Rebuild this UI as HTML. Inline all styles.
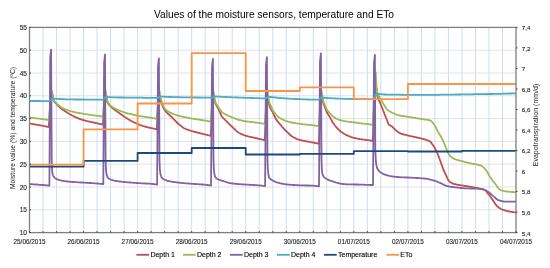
<!DOCTYPE html>
<html><head><meta charset="utf-8"><title>Values of the moisture sensors, temperature and ETo</title>
<style>html,body{margin:0;padding:0;background:#fff;width:550px;height:268px;overflow:hidden}svg{display:block}</style>
</head><body>
<svg width="550" height="268" viewBox="0 0 550 268">
<rect width="550" height="268" fill="#fff"/>
<path stroke="#e2e2e2" stroke-width="1" fill="none" d="M29.5 209.80H516.0M29.5 187.00H516.0M29.5 164.20H516.0M29.5 141.40H516.0M29.5 118.60H516.0M29.5 95.80H516.0M29.5 73.00H516.0M29.5 50.20H516.0"/>
<path stroke="#cfdcf4" stroke-width="1" fill="none" d="M43.01 27.4V232.6M56.53 27.4V232.6M70.04 27.4V232.6M83.56 27.4V232.6M97.07 27.4V232.6M110.58 27.4V232.6M124.10 27.4V232.6M137.61 27.4V232.6M151.12 27.4V232.6M164.64 27.4V232.6M178.15 27.4V232.6M191.67 27.4V232.6M205.18 27.4V232.6M218.69 27.4V232.6M232.21 27.4V232.6M245.72 27.4V232.6M259.24 27.4V232.6M272.75 27.4V232.6M286.26 27.4V232.6M299.78 27.4V232.6M313.29 27.4V232.6M326.81 27.4V232.6M340.32 27.4V232.6M353.83 27.4V232.6M367.35 27.4V232.6M380.86 27.4V232.6M394.38 27.4V232.6M407.89 27.4V232.6M421.40 27.4V232.6M434.92 27.4V232.6M448.43 27.4V232.6M461.94 27.4V232.6M475.46 27.4V232.6M488.97 27.4V232.6M502.49 27.4V232.6"/>
<g fill="none" stroke-width="1.8" stroke-linejoin="round" stroke-linecap="butt">
<polyline stroke="#c0504d" points="29.5,123.5 30.1,123.6 30.7,123.7 31.2,123.8 31.8,123.9 32.4,124.0 33.0,124.1 33.6,124.2 34.2,124.3 34.8,124.4 35.3,124.5 35.9,124.6 36.5,124.7 37.1,124.8 37.7,124.9 38.2,125.0 38.8,125.1 39.4,125.2 40.0,125.3 40.6,125.4 41.2,125.5 41.8,125.6 42.3,125.7 42.9,125.8 43.5,126.0 44.1,126.1 44.7,126.2 45.3,126.3 45.9,126.4 46.5,126.5 47.0,126.6 47.6,126.8 48.2,126.9 48.8,127.0 51.4,92.0 52.6,95.0 53.0,98.0 53.4,100.0 54.0,101.2 54.5,102.0 55.0,102.6 55.6,103.2 56.2,103.6 56.7,104.2 57.2,104.8 57.8,105.4 58.4,106.0 58.9,106.6 59.5,107.1 60.0,107.6 60.6,108.1 61.1,108.5 61.7,108.9 62.3,109.3 62.8,109.7 63.4,110.1 64.0,110.5 64.5,110.9 65.1,111.2 65.6,111.6 66.2,111.9 66.8,112.3 67.3,112.7 67.9,113.0 68.4,113.3 69.0,113.7 69.5,114.0 70.1,114.3 70.7,114.6 71.2,114.9 71.8,115.2 72.3,115.5 72.9,115.8 73.4,116.1 74.0,116.4 74.6,116.7 75.1,116.9 75.7,117.2 76.2,117.5 76.8,117.7 77.4,117.9 77.9,118.2 78.5,118.4 79.1,118.6 79.6,118.9 80.2,119.1 80.8,119.3 81.3,119.5 81.9,119.7 82.5,119.9 83.0,120.0 83.6,120.2 84.2,120.4 84.7,120.5 85.3,120.7 85.8,120.8 86.4,120.9 87.0,121.1 87.5,121.2 88.1,121.3 88.6,121.5 89.2,121.6 89.8,121.7 90.3,121.8 90.9,121.9 91.4,122.1 92.0,122.2 92.6,122.3 93.2,122.5 93.8,122.6 94.4,122.7 94.9,122.9 95.5,123.0 96.1,123.1 96.7,123.2 97.3,123.4 97.9,123.5 98.5,123.6 99.1,123.8 99.6,123.9 100.2,124.0 100.8,124.1 101.4,124.3 102.0,124.4 102.5,124.5 102.9,124.6 105.3,92.0 106.4,97.0 106.9,100.1 107.4,102.2 108.0,103.3 108.5,104.2 109.1,104.8 109.6,105.4 110.2,105.9 110.7,106.4 111.3,107.0 111.8,107.5 112.4,108.0 113.0,108.5 113.5,108.9 114.1,109.4 114.6,109.8 115.2,110.2 115.8,110.6 116.3,111.0 116.9,111.4 117.4,111.8 118.0,112.2 118.5,112.6 119.1,113.0 119.6,113.4 120.2,113.8 120.8,114.2 121.3,114.6 121.9,115.0 122.4,115.4 123.0,115.7 123.5,116.1 124.1,116.5 124.7,116.9 125.2,117.2 125.8,117.6 126.3,118.0 126.9,118.3 127.5,118.7 128.0,119.0 128.6,119.4 129.1,119.7 129.7,120.1 130.2,120.4 130.8,120.7 131.4,121.0 131.9,121.3 132.5,121.6 133.1,121.9 133.6,122.2 134.2,122.5 134.8,122.7 135.3,123.0 135.9,123.3 136.5,123.5 137.0,123.8 137.6,124.0 138.2,124.2 138.7,124.4 139.3,124.7 139.8,124.9 140.4,125.1 141.0,125.3 141.5,125.5 142.1,125.7 142.6,125.9 143.2,126.1 143.8,126.2 144.3,126.4 144.9,126.6 145.4,126.7 146.0,126.9 146.6,127.1 147.2,127.2 147.8,127.3 148.4,127.5 148.9,127.6 149.5,127.7 150.1,127.9 150.7,128.0 151.3,128.1 151.9,128.2 152.5,128.3 153.1,128.5 153.6,128.6 154.2,128.7 154.8,128.8 155.4,129.0 156.0,129.1 156.4,129.2 156.8,129.3 159.2,92.0 160.4,99.0 160.9,101.1 161.5,102.9 162.0,104.5 162.5,105.9 163.1,107.1 163.6,108.2 164.2,109.2 164.7,110.0 165.3,110.8 165.8,111.5 166.4,112.1 166.9,112.7 167.5,113.2 168.1,113.7 168.6,114.3 169.2,114.7 169.7,115.2 170.3,115.7 170.8,116.3 171.4,116.8 172.0,117.4 172.5,117.9 173.1,118.5 173.6,119.1 174.2,119.7 174.8,120.3 175.3,120.9 175.9,121.4 176.4,122.0 177.0,122.5 177.5,123.0 178.1,123.5 178.7,124.0 179.2,124.5 179.8,124.9 180.3,125.4 180.9,125.9 181.4,126.3 182.0,126.7 182.6,127.1 183.1,127.5 183.7,127.9 184.2,128.2 184.8,128.5 185.4,128.8 185.9,129.0 186.5,129.3 187.1,129.5 187.6,129.7 188.2,129.9 188.8,130.1 189.3,130.3 189.9,130.5 190.5,130.7 191.0,130.8 191.6,131.0 192.2,131.2 192.7,131.3 193.3,131.5 193.8,131.6 194.4,131.8 195.0,131.9 195.5,132.1 196.1,132.2 196.6,132.4 197.2,132.5 197.8,132.6 198.3,132.8 198.9,132.9 199.4,133.1 200.0,133.2 200.6,133.3 201.2,133.5 201.8,133.6 202.4,133.8 202.9,133.9 203.5,134.1 204.1,134.2 204.7,134.3 205.3,134.5 205.9,134.6 206.5,134.8 207.1,134.9 207.6,135.0 208.2,135.2 208.8,135.3 209.4,135.5 210.0,135.6 210.4,135.7 210.8,135.8 213.2,92.0 214.4,99.0 214.9,101.5 215.4,103.4 216.0,104.7 216.5,105.7 217.1,106.7 217.6,107.7 218.2,108.6 218.7,109.6 219.3,110.8 219.8,112.1 220.4,113.4 221.0,114.7 221.5,115.9 222.1,116.8 222.7,117.5 223.2,118.1 223.8,118.6 224.3,119.1 224.8,119.6 225.4,120.1 226.0,120.7 226.5,121.2 227.1,121.8 227.6,122.4 228.2,122.9 228.8,123.5 229.3,124.1 229.9,124.6 230.4,125.2 231.0,125.7 231.5,126.3 232.1,126.8 232.7,127.3 233.2,127.9 233.8,128.4 234.3,129.0 234.9,129.5 235.4,130.0 236.0,130.6 236.6,131.1 237.1,131.5 237.7,132.0 238.2,132.3 238.8,132.7 239.4,133.0 239.9,133.3 240.5,133.6 241.1,133.9 241.6,134.2 242.2,134.4 242.8,134.7 243.3,134.9 243.9,135.1 244.5,135.3 245.0,135.5 245.6,135.7 246.2,135.9 246.7,136.0 247.3,136.2 247.8,136.3 248.4,136.5 249.0,136.6 249.5,136.7 250.1,136.8 250.6,137.0 251.2,137.1 251.8,137.2 252.3,137.3 252.9,137.4 253.4,137.6 254.0,137.7 254.6,137.8 255.2,138.0 255.8,138.1 256.4,138.2 256.9,138.4 257.5,138.5 258.1,138.6 258.7,138.8 259.3,138.9 259.9,139.0 260.5,139.2 261.1,139.3 261.6,139.4 262.2,139.6 262.8,139.7 263.4,139.9 264.0,140.0 264.4,140.1 264.8,140.2 267.2,92.0 268.4,100.0 268.9,103.2 269.4,105.5 269.8,106.7 270.2,107.6 270.6,108.4 271.1,109.4 271.6,110.4 272.2,111.3 272.7,112.3 273.3,113.5 273.8,114.7 274.4,116.0 275.0,117.2 275.5,118.3 276.1,119.3 276.7,120.1 277.2,120.9 277.8,121.6 278.3,122.2 278.8,122.9 279.4,123.5 280.0,124.2 280.5,124.8 281.1,125.5 281.6,126.1 282.2,126.8 282.8,127.4 283.3,128.1 283.9,128.7 284.4,129.3 285.0,129.9 285.5,130.4 286.1,131.0 286.7,131.6 287.2,132.1 287.8,132.7 288.3,133.2 288.9,133.8 289.5,134.3 290.0,134.8 290.6,135.3 291.1,135.7 291.7,136.2 292.2,136.5 292.8,136.9 293.4,137.2 293.9,137.5 294.5,137.8 295.1,138.1 295.6,138.4 296.2,138.7 296.8,138.9 297.3,139.1 297.9,139.3 298.5,139.5 299.0,139.7 299.6,139.9 300.2,140.1 300.8,140.2 301.4,140.4 302.0,140.5 302.6,140.6 303.2,140.7 303.8,140.8 304.4,140.9 305.0,141.0 305.6,141.2 306.2,141.3 306.8,141.4 307.4,141.5 308.0,141.6 308.6,141.7 309.2,141.8 309.8,141.9 310.4,142.1 310.9,142.2 311.5,142.3 312.1,142.4 312.7,142.5 313.3,142.6 313.9,142.7 314.5,142.9 315.1,143.0 315.6,143.1 316.2,143.2 316.8,143.3 317.4,143.5 318.0,143.6 318.4,143.7 318.8,143.8 321.2,92.0 322.4,98.0 322.9,101.2 323.4,103.5 323.8,104.7 324.2,105.6 324.6,106.5 325.1,107.9 325.6,109.3 326.2,110.6 326.7,111.8 327.3,112.9 327.8,113.9 328.4,114.8 329.0,115.7 329.5,116.6 330.1,117.6 330.7,118.6 331.2,119.6 331.8,120.7 332.3,121.7 332.8,122.6 333.4,123.5 334.0,124.3 334.5,125.0 335.1,125.8 335.7,126.4 336.2,127.1 336.8,127.7 337.4,128.3 337.9,128.9 338.5,129.5 339.0,130.0 339.6,130.5 340.1,131.0 340.7,131.4 341.2,131.9 341.8,132.3 342.3,132.6 342.9,133.0 343.5,133.4 344.0,133.7 344.6,134.0 345.1,134.3 345.7,134.6 346.2,134.9 346.8,135.2 347.4,135.5 347.9,135.7 348.5,136.0 349.1,136.2 349.6,136.5 350.2,136.7 350.8,136.9 351.3,137.1 351.9,137.3 352.5,137.5 353.0,137.6 353.6,137.8 354.2,137.9 354.8,138.1 355.4,138.2 356.0,138.4 356.6,138.5 357.2,138.6 357.8,138.7 358.4,138.8 359.0,138.9 359.6,139.0 360.2,139.1 360.8,139.2 361.4,139.3 362.0,139.4 362.6,139.5 363.2,139.6 363.8,139.7 364.4,139.7 364.9,139.8 365.5,139.9 366.1,139.9 366.7,140.0 367.3,140.1 367.9,140.1 368.5,140.2 369.1,140.3 369.6,140.4 370.2,140.5 370.8,140.6 371.4,140.7 372.0,140.8 372.4,140.9 372.7,141.0 375.2,92.0 376.5,88.0 377.0,94.3 377.6,96.9 378.1,98.7 378.7,100.0 379.3,101.1 379.8,102.2 380.4,103.5 380.9,104.9 381.5,106.3 382.0,107.7 382.6,109.1 383.1,110.5 383.7,111.9 384.3,113.3 384.8,114.7 385.4,116.1 386.0,117.5 386.5,118.9 387.1,120.3 387.7,121.9 388.2,123.5 388.8,124.5 389.3,125.0 389.9,125.3 390.4,125.6 390.9,125.9 391.5,126.1 392.0,126.5 392.6,127.0 393.2,127.6 393.8,128.3 394.4,128.9 395.0,129.5 395.6,130.0 396.1,130.5 396.7,130.9 397.2,131.4 397.8,131.8 398.3,132.2 398.9,132.6 399.4,132.9 400.0,133.2 400.6,133.4 401.1,133.7 401.7,133.9 402.3,134.0 402.9,134.2 403.4,134.4 404.0,134.5 404.6,134.7 405.1,134.8 405.7,134.9 406.3,135.1 406.9,135.2 407.4,135.4 408.0,135.5 408.6,135.7 409.2,135.8 409.8,135.9 410.4,136.1 411.0,136.2 411.6,136.3 412.2,136.5 412.8,136.6 413.4,136.7 414.0,136.8 414.6,137.0 415.2,137.1 415.8,137.2 416.4,137.4 417.0,137.5 417.6,137.6 418.2,137.8 418.8,137.9 419.4,138.0 420.0,138.2 420.6,138.3 421.1,138.5 421.7,138.6 422.3,138.8 422.9,138.9 423.4,139.1 424.0,139.2 424.6,139.4 425.1,139.5 425.7,139.7 426.3,139.9 426.9,140.1 427.4,140.3 428.0,140.5 428.5,140.7 429.0,140.9 429.5,141.2 430.0,141.5 430.6,142.0 431.2,142.7 431.8,143.5 432.4,144.4 433.0,145.3 433.6,146.2 434.2,147.1 434.8,148.1 435.4,149.2 436.0,150.3 436.6,151.5 437.1,152.8 437.7,154.1 438.3,155.5 438.9,157.0 439.4,158.5 440.0,160.0 440.6,161.7 441.2,163.4 441.8,165.2 442.4,166.9 443.0,168.5 443.6,170.0 444.2,171.3 444.8,172.7 445.4,173.9 446.0,175.2 446.6,176.5 447.2,177.9 447.8,179.2 448.4,180.3 449.0,181.1 449.6,181.6 450.1,182.1 450.7,182.5 451.3,182.8 451.9,183.1 452.4,183.4 453.0,183.6 453.6,183.8 454.1,184.0 454.7,184.1 455.3,184.2 455.9,184.4 456.4,184.5 457.0,184.6 457.6,184.7 458.1,184.8 458.7,184.9 459.3,185.0 459.9,185.1 460.4,185.2 461.0,185.3 461.6,185.4 462.2,185.5 462.8,185.6 463.4,185.7 464.0,185.8 464.6,185.9 465.2,186.0 465.8,186.0 466.4,186.1 467.0,186.2 467.6,186.3 468.2,186.4 468.8,186.5 469.4,186.6 470.0,186.7 470.6,186.8 471.2,186.9 471.8,187.0 472.4,187.1 472.9,187.2 473.5,187.3 474.1,187.5 474.7,187.6 475.3,187.7 475.9,187.8 476.5,187.9 477.1,188.1 477.6,188.2 478.2,188.3 478.8,188.4 479.4,188.6 480.0,188.7 480.6,188.8 481.1,188.9 481.7,189.0 482.2,189.2 482.8,189.3 483.3,189.4 483.9,189.6 484.4,189.8 485.0,190.0 485.6,190.4 486.2,191.1 486.8,191.9 487.4,192.8 488.0,193.6 488.6,194.3 489.1,195.0 489.7,195.8 490.2,196.5 490.8,197.3 491.3,198.1 491.9,198.9 492.4,199.6 493.0,200.4 493.6,201.2 494.1,202.1 494.7,203.0 495.3,203.9 495.9,204.7 496.4,205.4 497.0,206.0 497.6,206.5 498.2,207.0 498.8,207.5 499.4,207.9 500.0,208.3 500.6,208.7 501.2,209.0 501.8,209.3 502.4,209.6 503.0,209.8 503.6,210.0 504.2,210.2 504.8,210.4 505.3,210.6 505.9,210.7 506.5,210.9 507.1,211.0 507.7,211.1 508.2,211.3 508.8,211.4 509.4,211.5 510.0,211.6 510.6,211.7 511.2,211.8 511.8,211.9 512.4,212.0 513.0,212.1 513.6,212.2 514.2,212.3 514.8,212.4 515.4,212.4 516.0,212.5"/>
<polyline stroke="#9bbb59" points="29.5,117.5 30.1,117.6 30.7,117.6 31.2,117.7 31.8,117.8 32.4,117.8 33.0,117.9 33.6,118.0 34.2,118.1 34.8,118.1 35.3,118.2 35.9,118.3 36.5,118.4 37.1,118.4 37.7,118.5 38.2,118.6 38.8,118.6 39.4,118.7 40.0,118.8 40.6,118.9 41.2,119.0 41.8,119.0 42.3,119.1 42.9,119.2 43.5,119.3 44.1,119.3 44.7,119.4 45.3,119.5 45.9,119.6 46.5,119.7 47.0,119.8 47.6,119.8 48.2,119.9 48.8,120.0 51.4,90.0 52.6,94.0 53.0,97.1 53.4,99.2 54.0,100.4 54.5,101.2 55.0,101.9 55.6,102.4 56.2,102.9 56.7,103.4 57.2,104.0 57.8,104.5 58.4,105.0 58.9,105.5 59.5,106.0 60.0,106.4 60.6,106.8 61.1,107.2 61.7,107.5 62.3,107.8 62.8,108.1 63.4,108.4 64.0,108.7 64.5,108.9 65.1,109.2 65.6,109.4 66.2,109.6 66.8,109.9 67.3,110.1 67.9,110.3 68.4,110.5 69.0,110.7 69.5,110.8 70.1,111.0 70.7,111.2 71.2,111.3 71.8,111.5 72.3,111.6 72.9,111.7 73.4,111.9 74.0,112.0 74.6,112.1 75.1,112.3 75.7,112.4 76.2,112.5 76.8,112.6 77.4,112.7 77.9,112.8 78.5,112.9 79.1,113.0 79.6,113.1 80.2,113.2 80.8,113.3 81.3,113.4 81.9,113.5 82.5,113.6 83.0,113.7 83.6,113.8 84.2,113.9 84.7,114.0 85.3,114.1 85.8,114.2 86.4,114.3 87.0,114.3 87.5,114.4 88.1,114.5 88.6,114.6 89.2,114.7 89.8,114.8 90.3,114.9 90.9,114.9 91.4,115.0 92.0,115.1 92.6,115.2 93.2,115.3 93.8,115.3 94.4,115.4 94.9,115.5 95.5,115.6 96.1,115.6 96.7,115.7 97.3,115.8 97.9,115.9 98.5,115.9 99.1,116.0 99.6,116.1 100.2,116.2 100.8,116.3 101.4,116.4 102.0,116.5 102.5,116.6 102.9,116.7 105.3,90.0 106.4,95.0 106.9,98.2 107.4,100.5 108.0,101.8 108.5,102.9 109.1,103.8 109.6,104.5 110.2,105.1 110.7,105.6 111.3,106.1 111.8,106.6 112.4,107.0 113.0,107.3 113.5,107.7 114.1,108.0 114.6,108.3 115.2,108.6 115.8,108.9 116.3,109.2 116.9,109.4 117.4,109.7 118.0,109.9 118.5,110.2 119.1,110.4 119.6,110.7 120.2,110.9 120.8,111.1 121.3,111.3 121.9,111.5 122.4,111.7 123.0,111.9 123.5,112.1 124.1,112.3 124.7,112.5 125.2,112.6 125.8,112.8 126.3,113.0 126.9,113.1 127.5,113.3 128.0,113.4 128.6,113.6 129.1,113.7 129.7,113.8 130.2,114.0 130.8,114.1 131.4,114.2 131.9,114.4 132.5,114.5 133.1,114.6 133.6,114.8 134.2,114.9 134.8,115.0 135.3,115.1 135.9,115.3 136.5,115.4 137.0,115.5 137.6,115.6 138.2,115.7 138.7,115.8 139.3,115.9 139.8,116.0 140.4,116.1 141.0,116.2 141.5,116.3 142.1,116.4 142.6,116.5 143.2,116.6 143.8,116.6 144.3,116.7 144.9,116.8 145.4,116.9 146.0,117.0 146.6,117.1 147.2,117.2 147.8,117.3 148.4,117.4 148.9,117.4 149.5,117.5 150.1,117.6 150.7,117.7 151.3,117.8 151.9,117.9 152.5,118.0 153.1,118.1 153.6,118.2 154.2,118.3 154.8,118.4 155.4,118.5 156.0,118.6 156.4,118.7 156.8,118.8 159.2,90.0 160.4,96.0 160.9,98.5 161.5,100.7 162.0,102.5 162.5,104.0 163.1,105.4 163.6,106.6 164.2,107.6 164.7,108.4 165.3,109.0 165.8,109.6 166.4,110.1 166.9,110.5 167.5,110.9 168.1,111.3 168.6,111.6 169.2,112.0 169.7,112.3 170.3,112.6 170.8,112.8 171.4,113.1 172.0,113.4 172.5,113.6 173.1,113.9 173.6,114.1 174.2,114.3 174.8,114.5 175.3,114.7 175.9,114.9 176.4,115.1 177.0,115.3 177.5,115.4 178.1,115.6 178.7,115.8 179.2,115.9 179.8,116.0 180.3,116.2 180.9,116.3 181.4,116.4 182.0,116.5 182.6,116.6 183.1,116.8 183.7,116.9 184.2,117.0 184.8,117.1 185.4,117.2 185.9,117.3 186.5,117.5 187.1,117.6 187.6,117.7 188.2,117.8 188.8,117.9 189.3,118.1 189.9,118.2 190.5,118.3 191.0,118.4 191.6,118.5 192.2,118.6 192.7,118.7 193.3,118.8 193.8,118.9 194.4,119.0 195.0,119.0 195.5,119.1 196.1,119.2 196.6,119.3 197.2,119.4 197.8,119.5 198.3,119.5 198.9,119.6 199.4,119.7 200.0,119.8 200.6,119.9 201.2,120.0 201.8,120.1 202.4,120.2 202.9,120.3 203.5,120.4 204.1,120.4 204.7,120.5 205.3,120.6 205.9,120.7 206.5,120.8 207.1,120.9 207.6,121.0 208.2,121.1 208.8,121.3 209.4,121.4 210.0,121.5 210.4,121.6 210.8,121.7 213.2,90.0 214.4,97.0 214.9,100.3 215.4,102.5 216.0,103.6 216.5,104.3 217.1,105.0 217.6,105.8 218.1,106.7 218.7,107.6 219.2,108.4 219.7,109.2 220.2,109.9 220.7,110.5 221.1,111.1 221.6,111.6 222.1,112.1 222.7,112.6 223.2,113.0 223.8,113.3 224.3,113.7 224.8,114.0 225.4,114.3 226.0,114.6 226.5,114.9 227.1,115.2 227.6,115.4 228.2,115.7 228.8,115.9 229.3,116.2 229.9,116.4 230.4,116.6 231.0,116.8 231.5,117.1 232.1,117.3 232.7,117.5 233.2,117.8 233.8,118.0 234.3,118.2 234.9,118.4 235.4,118.7 236.0,118.9 236.6,119.1 237.1,119.3 237.7,119.5 238.2,119.6 238.8,119.8 239.4,120.0 239.9,120.1 240.5,120.2 241.1,120.4 241.6,120.5 242.2,120.7 242.8,120.8 243.3,120.9 243.9,121.0 244.5,121.1 245.0,121.2 245.6,121.3 246.2,121.4 246.7,121.5 247.3,121.5 247.8,121.6 248.4,121.7 249.0,121.7 249.5,121.8 250.1,121.9 250.6,121.9 251.2,122.0 251.8,122.0 252.3,122.1 252.9,122.2 253.4,122.2 254.0,122.3 254.6,122.4 255.2,122.5 255.8,122.5 256.4,122.6 256.9,122.7 257.5,122.8 258.1,122.8 258.7,122.9 259.3,123.0 259.9,123.1 260.5,123.2 261.1,123.3 261.6,123.4 262.2,123.5 262.8,123.6 263.4,123.7 264.0,123.8 264.4,123.9 264.8,124.0 267.2,90.0 268.4,97.0 268.9,100.2 269.4,102.5 269.8,103.6 270.2,104.4 270.6,105.2 271.1,106.4 271.6,107.7 272.2,108.9 272.7,109.9 273.3,110.9 273.8,111.8 274.4,112.7 275.0,113.4 275.5,114.2 276.1,114.8 276.7,115.4 277.2,115.9 277.8,116.4 278.3,116.8 278.8,117.2 279.4,117.6 280.0,118.0 280.5,118.3 281.1,118.6 281.6,119.0 282.2,119.3 282.8,119.6 283.3,119.8 283.9,120.1 284.4,120.4 285.0,120.6 285.5,120.8 286.1,121.0 286.7,121.2 287.2,121.4 287.8,121.5 288.3,121.7 288.9,121.8 289.5,122.0 290.0,122.1 290.6,122.2 291.1,122.4 291.7,122.5 292.2,122.6 292.8,122.7 293.4,122.8 293.9,122.9 294.5,123.0 295.1,123.1 295.6,123.2 296.2,123.3 296.8,123.4 297.3,123.5 297.9,123.6 298.5,123.6 299.0,123.7 299.6,123.8 300.2,123.9 300.8,124.0 301.4,124.0 302.0,124.1 302.6,124.2 303.2,124.3 303.8,124.3 304.4,124.4 305.0,124.5 305.6,124.5 306.2,124.6 306.8,124.7 307.4,124.7 308.0,124.8 308.6,124.9 309.2,124.9 309.8,125.0 310.4,125.1 310.9,125.1 311.5,125.2 312.1,125.2 312.7,125.3 313.3,125.4 313.9,125.4 314.5,125.5 315.1,125.6 315.6,125.6 316.2,125.7 316.8,125.8 317.4,125.9 318.0,126.0 318.4,126.1 318.8,126.2 321.2,90.0 322.4,96.0 322.9,99.4 323.4,101.7 323.8,102.7 324.2,103.4 324.6,104.2 325.1,105.5 325.6,106.8 326.2,108.1 326.7,109.2 327.3,110.1 327.8,110.8 328.4,111.5 329.0,112.2 329.5,112.8 330.1,113.4 330.7,114.0 331.2,114.6 331.8,115.3 332.3,115.8 332.8,116.3 333.4,116.8 334.0,117.2 334.5,117.6 335.1,117.9 335.7,118.2 336.2,118.5 336.8,118.8 337.4,119.1 337.9,119.3 338.5,119.5 339.0,119.7 339.6,119.9 340.1,120.1 340.7,120.3 341.2,120.4 341.8,120.5 342.3,120.7 342.9,120.8 343.5,120.9 344.0,121.0 344.6,121.1 345.1,121.2 345.7,121.3 346.2,121.4 346.8,121.5 347.4,121.6 347.9,121.7 348.5,121.7 349.1,121.8 349.6,121.9 350.2,121.9 350.8,122.0 351.3,122.0 351.9,122.1 352.5,122.2 353.0,122.2 353.6,122.3 354.2,122.4 354.8,122.5 355.4,122.5 356.0,122.6 356.6,122.7 357.2,122.8 357.8,122.9 358.4,123.0 359.0,123.1 359.6,123.2 360.2,123.2 360.8,123.3 361.4,123.4 362.0,123.5 362.6,123.6 363.2,123.7 363.8,123.7 364.4,123.8 364.9,123.8 365.5,123.9 366.1,124.0 366.7,124.0 367.3,124.1 367.9,124.2 368.5,124.2 369.1,124.3 369.6,124.4 370.2,124.5 370.8,124.6 371.4,124.7 372.0,124.8 372.4,124.9 372.7,125.0 375.7,72.0 376.5,86.0 377.0,91.7 377.6,93.7 378.1,95.1 378.7,96.1 379.3,96.8 379.8,97.6 380.4,98.5 380.9,99.5 381.5,100.5 382.0,101.5 382.6,102.5 383.1,103.4 383.7,104.3 384.3,105.2 384.8,106.2 385.4,107.1 386.0,108.0 386.5,108.8 387.1,109.4 387.7,109.9 388.2,110.4 388.8,110.8 389.3,111.1 389.9,111.5 390.4,111.8 391.0,112.1 391.5,112.4 392.1,112.7 392.7,113.0 393.2,113.2 393.8,113.5 394.3,113.8 394.9,114.0 395.5,114.2 396.0,114.4 396.6,114.6 397.1,114.8 397.7,115.0 398.2,115.2 398.8,115.3 399.4,115.4 399.9,115.5 400.5,115.6 401.0,115.7 401.6,115.8 402.1,115.9 402.7,116.0 403.3,116.1 403.8,116.1 404.4,116.2 404.9,116.3 405.5,116.4 406.1,116.5 406.6,116.6 407.2,116.7 407.8,116.8 408.3,116.9 408.9,117.0 409.5,117.1 410.0,117.1 410.6,117.2 411.2,117.3 411.7,117.4 412.3,117.5 412.9,117.6 413.4,117.7 414.0,117.8 414.6,117.9 415.2,118.0 415.8,118.1 416.4,118.2 416.9,118.3 417.5,118.4 418.1,118.5 418.7,118.6 419.3,118.6 419.9,118.7 420.5,118.8 421.1,118.9 421.6,119.0 422.2,119.1 422.8,119.2 423.4,119.3 424.0,119.4 424.6,119.5 425.2,119.6 425.8,119.6 426.4,119.7 427.0,119.8 427.6,119.9 428.2,120.0 428.8,120.1 429.4,120.2 430.0,120.4 430.6,120.7 431.1,121.0 431.7,121.6 432.3,122.2 432.9,122.8 433.4,123.6 434.0,124.3 434.6,125.1 435.1,126.1 435.7,127.2 436.3,128.4 436.9,129.6 437.4,130.7 438.0,131.8 438.6,132.8 439.1,133.7 439.7,134.7 440.3,135.6 440.9,136.5 441.4,137.5 442.0,138.6 442.6,139.8 443.2,141.1 443.8,142.5 444.4,143.9 445.0,145.3 445.6,146.7 446.1,148.1 446.7,149.6 447.3,151.1 447.9,152.4 448.4,153.6 449.0,154.5 449.6,155.3 450.2,155.9 450.8,156.5 451.4,157.0 452.0,157.5 452.6,157.9 453.2,158.3 453.8,158.6 454.4,158.9 455.0,159.2 455.6,159.4 456.2,159.6 456.8,159.8 457.4,160.0 458.0,160.1 458.6,160.3 459.2,160.4 459.8,160.6 460.4,160.7 461.0,160.9 461.6,161.1 462.2,161.2 462.8,161.4 463.4,161.5 464.0,161.7 464.6,161.9 465.2,162.0 465.8,162.2 466.4,162.3 467.0,162.5 467.6,162.6 468.2,162.8 468.8,162.9 469.4,163.1 470.0,163.2 470.6,163.3 471.1,163.4 471.7,163.6 472.3,163.7 472.9,163.8 473.4,163.9 474.0,164.0 474.6,164.1 475.1,164.2 475.7,164.3 476.3,164.4 476.9,164.5 477.4,164.7 478.0,164.8 478.6,164.9 479.2,165.1 479.8,165.2 480.4,165.4 481.0,165.6 481.6,165.9 482.1,166.2 482.7,166.6 483.2,167.1 483.8,167.6 484.3,168.2 484.9,168.8 485.4,169.4 486.0,170.1 486.6,170.9 487.1,171.8 487.7,172.8 488.3,173.8 488.9,174.9 489.4,175.9 490.0,176.8 490.6,177.6 491.1,178.4 491.7,179.2 492.2,179.9 492.8,180.7 493.3,181.4 493.9,182.1 494.4,182.8 495.0,183.5 495.6,184.2 496.1,185.0 496.7,185.8 497.2,186.7 497.8,187.4 498.3,188.1 498.9,188.7 499.4,189.2 500.0,189.6 500.6,189.9 501.2,190.1 501.8,190.4 502.4,190.6 503.0,190.8 503.6,190.9 504.2,191.1 504.8,191.2 505.4,191.3 506.0,191.4 506.6,191.5 507.2,191.5 507.8,191.6 508.4,191.7 508.9,191.7 509.5,191.8 510.1,191.8 510.7,191.9 511.3,191.9 511.9,192.0 512.5,192.0 513.1,192.0 513.6,192.1 514.2,192.1 514.8,192.1 515.4,192.1 516.0,192.1"/>
<polyline stroke="#8064a2" points="29.5,184.0 30.1,184.0 30.7,184.1 31.2,184.1 31.8,184.2 32.4,184.2 33.0,184.3 33.6,184.3 34.2,184.3 34.8,184.4 35.3,184.4 35.9,184.5 36.5,184.5 37.1,184.6 37.7,184.6 38.2,184.7 38.8,184.7 39.4,184.8 40.0,184.8 40.6,184.8 41.2,184.9 41.8,184.9 42.4,185.0 42.9,185.0 43.5,185.1 44.1,185.1 44.7,185.2 45.3,185.2 45.9,185.3 46.5,185.3 47.0,185.4 47.6,185.4 48.2,185.5 48.8,185.5 49.4,185.6 50.2,57.6 51.1,49.6 51.7,160.0 52.1,170.0 52.4,172.9 52.7,174.5 53.2,175.8 53.6,176.6 54.1,177.3 54.7,177.9 55.2,178.3 55.8,178.6 56.4,178.9 56.9,179.2 57.5,179.4 58.1,179.6 58.6,179.8 59.2,180.0 59.7,180.2 60.3,180.3 60.9,180.4 61.5,180.6 62.1,180.7 62.6,180.8 63.2,180.9 63.8,181.0 64.4,181.1 65.0,181.2 65.5,181.3 66.1,181.3 66.6,181.4 67.2,181.5 67.7,181.5 68.2,181.6 68.8,181.7 69.3,181.7 69.9,181.8 70.4,181.8 71.0,181.8 71.6,181.9 72.1,181.9 72.7,182.0 73.3,182.0 73.9,182.1 74.5,182.1 75.1,182.1 75.6,182.2 76.2,182.2 76.8,182.2 77.4,182.3 78.0,182.3 78.5,182.3 79.1,182.4 79.7,182.4 80.3,182.4 80.9,182.5 81.5,182.5 82.0,182.5 82.6,182.6 83.2,182.6 83.8,182.6 84.4,182.7 84.9,182.7 85.5,182.7 86.1,182.8 86.7,182.8 87.2,182.8 87.8,182.9 88.4,182.9 89.0,182.9 89.6,183.0 90.1,183.0 90.7,183.0 91.3,183.1 91.9,183.1 92.4,183.2 93.0,183.2 93.6,183.2 94.2,183.3 94.7,183.3 95.3,183.4 95.9,183.4 96.5,183.4 97.0,183.5 97.6,183.5 98.2,183.6 98.7,183.6 99.3,183.7 99.9,183.8 100.5,183.8 101.0,183.9 101.6,183.9 102.2,184.0 102.7,184.0 103.3,184.1 104.1,62.5 105.0,54.5 105.6,160.0 106.0,170.0 106.6,174.5 107.1,176.2 107.6,177.2 108.1,177.8 108.6,178.3 109.2,178.7 109.7,179.0 110.2,179.3 110.8,179.5 111.3,179.8 111.9,180.0 112.5,180.1 113.0,180.3 113.6,180.4 114.2,180.6 114.7,180.7 115.3,180.8 115.9,180.9 116.5,181.0 117.1,181.1 117.7,181.2 118.3,181.3 118.9,181.4 119.5,181.5 120.1,181.5 120.6,181.6 121.2,181.7 121.8,181.7 122.4,181.8 123.0,181.9 123.6,181.9 124.2,182.0 124.8,182.0 125.4,182.1 126.0,182.2 126.6,182.2 127.1,182.3 127.7,182.3 128.3,182.4 128.9,182.4 129.5,182.5 130.1,182.5 130.6,182.6 131.2,182.6 131.8,182.7 132.4,182.7 133.0,182.7 133.5,182.8 134.1,182.8 134.7,182.9 135.3,182.9 135.9,182.9 136.5,183.0 137.0,183.0 137.6,183.1 138.2,183.1 138.8,183.1 139.4,183.2 139.9,183.2 140.5,183.2 141.1,183.3 141.7,183.3 142.2,183.3 142.8,183.3 143.4,183.4 144.0,183.4 144.6,183.4 145.1,183.5 145.7,183.5 146.3,183.5 146.9,183.5 147.4,183.6 148.0,183.6 148.6,183.6 149.2,183.7 149.7,183.7 150.3,183.8 150.9,183.8 151.5,183.8 152.0,183.9 152.6,184.0 153.2,184.0 153.7,184.1 154.3,184.2 154.8,184.3 155.4,184.3 156.0,184.4 156.5,184.5 157.1,184.6 158.0,66.4 158.9,58.4 159.5,160.0 159.9,170.0 160.5,174.5 161.1,176.3 161.6,177.4 162.1,178.0 162.6,178.5 163.2,178.9 163.7,179.2 164.2,179.5 164.8,179.8 165.3,180.0 165.9,180.2 166.5,180.4 167.0,180.6 167.6,180.8 168.2,180.9 168.7,181.1 169.3,181.2 169.9,181.3 170.5,181.4 171.1,181.6 171.7,181.7 172.3,181.8 172.9,181.9 173.5,182.0 174.1,182.0 174.6,182.1 175.2,182.2 175.8,182.3 176.4,182.4 177.0,182.4 177.6,182.5 178.2,182.6 178.8,182.6 179.4,182.7 180.0,182.8 180.6,182.8 181.1,182.9 181.7,182.9 182.3,183.0 182.9,183.1 183.5,183.1 184.1,183.2 184.6,183.2 185.2,183.3 185.8,183.3 186.4,183.3 187.0,183.4 187.5,183.4 188.1,183.5 188.7,183.5 189.3,183.6 189.9,183.6 190.5,183.7 191.0,183.7 191.6,183.8 192.2,183.8 192.8,183.8 193.4,183.9 193.9,183.9 194.5,184.0 195.1,184.0 195.7,184.0 196.2,184.1 196.8,184.1 197.4,184.1 198.0,184.2 198.6,184.2 199.1,184.3 199.7,184.3 200.3,184.3 200.9,184.4 201.4,184.4 202.0,184.5 202.6,184.5 203.2,184.5 203.7,184.6 204.3,184.6 204.9,184.7 205.5,184.8 206.0,184.8 206.6,184.9 207.1,184.9 207.7,185.0 208.2,185.1 208.8,185.2 209.3,185.3 209.9,185.3 210.4,185.4 211.0,185.5 212.0,66.9 212.9,58.9 213.5,160.0 213.9,170.0 214.5,174.6 214.9,176.1 215.3,177.0 215.9,177.7 216.4,178.3 217.0,178.7 217.6,179.0 218.2,179.3 218.8,179.6 219.3,179.8 219.9,180.0 220.5,180.2 221.1,180.4 221.7,180.6 222.3,180.8 222.8,180.9 223.4,181.1 224.0,181.3 224.6,181.5 225.2,181.7 225.8,181.9 226.4,182.1 227.0,182.3 227.6,182.5 228.2,182.7 228.8,182.8 229.4,183.0 230.0,183.1 230.6,183.2 231.2,183.3 231.8,183.4 232.4,183.5 232.9,183.5 233.5,183.6 234.1,183.7 234.7,183.7 235.3,183.8 235.9,183.8 236.5,183.9 237.1,184.0 237.6,184.0 238.2,184.1 238.8,184.1 239.4,184.2 240.0,184.2 240.6,184.2 241.2,184.3 241.8,184.3 242.4,184.4 243.0,184.4 243.6,184.4 244.2,184.5 244.8,184.5 245.4,184.6 246.0,184.6 246.6,184.6 247.2,184.6 247.8,184.7 248.4,184.7 249.0,184.7 249.6,184.8 250.2,184.8 250.8,184.8 251.4,184.9 252.0,184.9 252.6,184.9 253.2,185.0 253.8,185.0 254.4,185.1 255.0,185.1 255.6,185.1 256.2,185.2 256.8,185.2 257.4,185.3 258.0,185.3 258.6,185.4 259.2,185.4 259.8,185.5 260.3,185.5 260.9,185.6 261.5,185.7 262.1,185.7 262.7,185.8 263.3,185.8 263.9,185.9 264.5,185.9 265.1,186.0 266.0,65.2 266.9,57.2 267.5,160.0 267.9,170.0 268.4,174.3 268.7,176.1 269.0,177.2 269.5,178.1 270.1,178.7 270.6,179.2 271.1,179.6 271.7,179.9 272.2,180.2 272.8,180.5 273.3,180.9 273.9,181.2 274.5,181.4 275.0,181.7 275.6,181.9 276.2,182.1 276.7,182.3 277.3,182.5 277.9,182.7 278.5,182.8 279.1,183.0 279.7,183.1 280.3,183.3 280.9,183.4 281.5,183.6 282.1,183.7 282.6,183.8 283.2,183.9 283.8,184.0 284.4,184.1 285.0,184.2 285.6,184.3 286.2,184.4 286.8,184.4 287.4,184.5 288.0,184.6 288.6,184.6 289.1,184.7 289.7,184.7 290.3,184.8 290.9,184.8 291.5,184.8 292.1,184.9 292.6,184.9 293.2,185.0 293.8,185.0 294.4,185.0 295.0,185.1 295.5,185.1 296.1,185.1 296.7,185.1 297.3,185.2 297.9,185.2 298.5,185.2 299.0,185.3 299.6,185.3 300.2,185.3 300.8,185.3 301.4,185.3 301.9,185.4 302.5,185.4 303.1,185.4 303.7,185.4 304.2,185.4 304.8,185.4 305.4,185.5 306.0,185.5 306.5,185.5 307.1,185.5 307.7,185.5 308.3,185.5 308.9,185.5 309.4,185.6 310.0,185.6 310.6,185.6 311.2,185.6 311.7,185.6 312.3,185.7 312.9,185.7 313.5,185.7 314.0,185.8 314.6,185.8 315.1,185.9 315.7,185.9 316.2,186.0 316.8,186.1 317.3,186.2 317.9,186.2 318.4,186.3 319.0,186.4 320.0,61.4 320.9,53.4 321.5,160.0 321.9,170.0 322.2,172.7 322.5,174.3 322.8,175.2 323.1,175.8 323.6,176.5 324.1,177.1 324.6,177.6 325.1,178.0 325.6,178.3 326.2,178.7 326.8,179.0 327.3,179.3 327.9,179.6 328.5,179.9 329.1,180.1 329.7,180.4 330.3,180.6 330.8,180.8 331.4,181.0 332.0,181.2 332.6,181.4 333.2,181.6 333.8,181.8 334.4,181.9 335.0,182.1 335.5,182.3 336.1,182.5 336.7,182.7 337.3,182.8 337.9,183.0 338.5,183.1 339.1,183.3 339.7,183.4 340.3,183.6 340.9,183.7 341.5,183.8 342.0,183.9 342.6,184.0 343.2,184.0 343.8,184.1 344.4,184.2 345.0,184.2 345.6,184.2 346.2,184.3 346.8,184.3 347.4,184.3 348.0,184.3 348.6,184.3 349.2,184.4 349.8,184.4 350.4,184.4 351.0,184.4 351.6,184.4 352.2,184.4 352.8,184.4 353.4,184.4 354.0,184.5 354.6,184.5 355.2,184.5 355.8,184.5 356.4,184.5 357.0,184.5 357.6,184.5 358.2,184.5 358.8,184.6 359.4,184.6 360.0,184.6 360.6,184.6 361.2,184.6 361.8,184.7 362.4,184.7 363.0,184.7 363.5,184.7 364.1,184.7 364.7,184.8 365.3,184.8 365.9,184.8 366.5,184.8 367.1,184.9 367.7,184.9 368.3,184.9 368.9,184.9 369.5,184.9 370.0,185.0 370.6,185.0 371.2,185.0 371.8,185.0 372.4,185.1 373.0,185.1 374.0,62.8 374.9,54.8 375.3,150.0 375.8,160.0 376.2,164.1 376.7,166.5 377.1,168.0 377.6,169.0 378.0,169.8 378.5,170.5 379.0,171.0 379.5,171.5 380.0,171.9 380.6,172.3 381.1,172.7 381.7,173.0 382.2,173.3 382.8,173.6 383.3,173.9 383.9,174.2 384.4,174.4 385.0,174.6 385.6,174.8 386.2,175.0 386.8,175.2 387.3,175.4 387.9,175.5 388.5,175.7 389.1,175.8 389.7,176.0 390.2,176.1 390.8,176.2 391.4,176.3 392.0,176.4 392.6,176.5 393.1,176.6 393.7,176.6 394.3,176.7 394.9,176.8 395.4,176.8 396.0,176.9 396.6,176.9 397.1,177.0 397.7,177.0 398.3,177.1 398.9,177.1 399.4,177.2 400.0,177.2 400.6,177.2 401.2,177.3 401.8,177.3 402.4,177.3 402.9,177.3 403.5,177.4 404.1,177.4 404.7,177.4 405.3,177.4 405.9,177.4 406.5,177.5 407.1,177.5 407.6,177.5 408.2,177.5 408.8,177.5 409.4,177.6 410.0,177.6 410.6,177.6 411.1,177.7 411.7,177.7 412.2,177.7 412.8,177.8 413.3,177.8 413.9,177.8 414.4,177.9 415.0,177.9 415.6,177.9 416.2,178.0 416.8,178.0 417.4,178.0 417.9,178.1 418.5,178.1 419.1,178.1 419.7,178.2 420.3,178.2 420.9,178.3 421.5,178.3 422.1,178.3 422.6,178.4 423.2,178.4 423.8,178.5 424.4,178.5 425.0,178.6 425.6,178.7 426.1,178.7 426.7,178.8 427.3,178.9 427.9,179.0 428.4,179.2 429.0,179.3 429.6,179.4 430.1,179.6 430.7,179.7 431.3,179.8 431.9,180.0 432.4,180.1 433.0,180.3 433.6,180.5 434.2,180.6 434.8,180.8 435.3,181.0 435.9,181.2 436.5,181.4 437.1,181.6 437.7,181.9 438.2,182.1 438.8,182.3 439.4,182.6 440.0,182.8 440.6,183.1 441.2,183.3 441.8,183.6 442.3,184.0 442.9,184.3 443.5,184.6 444.1,184.9 444.7,185.2 445.2,185.5 445.8,185.7 446.4,185.9 447.0,186.1 447.6,186.2 448.1,186.3 448.7,186.5 449.3,186.5 449.9,186.6 450.4,186.7 451.0,186.8 451.6,186.9 452.1,187.0 452.7,187.0 453.3,187.1 453.9,187.2 454.4,187.2 455.0,187.3 455.6,187.4 456.2,187.4 456.8,187.5 457.4,187.6 457.9,187.7 458.5,187.7 459.1,187.8 459.7,187.9 460.3,187.9 460.9,188.0 461.5,188.0 462.1,188.1 462.6,188.1 463.2,188.2 463.8,188.2 464.4,188.3 465.0,188.3 465.6,188.3 466.2,188.4 466.8,188.4 467.4,188.4 468.0,188.4 468.5,188.4 469.1,188.4 469.7,188.5 470.3,188.5 470.9,188.5 471.5,188.5 472.1,188.5 472.7,188.5 473.3,188.5 473.9,188.6 474.5,188.6 475.0,188.6 475.6,188.6 476.2,188.6 476.8,188.7 477.4,188.7 478.0,188.7 478.6,188.7 479.2,188.8 479.8,188.8 480.4,188.8 481.0,188.9 481.6,189.0 482.2,189.1 482.8,189.3 483.3,189.5 483.9,189.7 484.5,190.0 485.1,190.2 485.7,190.5 486.2,190.8 486.8,191.1 487.4,191.5 488.0,191.8 488.6,192.1 489.1,192.5 489.7,193.0 490.2,193.5 490.8,194.0 491.3,194.5 491.9,195.0 492.4,195.4 493.0,195.9 493.6,196.4 494.2,196.9 494.8,197.4 495.4,198.0 496.0,198.5 496.6,199.0 497.2,199.5 497.8,199.9 498.4,200.2 499.0,200.4 499.6,200.6 500.2,200.7 500.8,200.9 501.3,201.1 501.9,201.2 502.5,201.3 503.1,201.4 503.7,201.5 504.2,201.6 504.8,201.7 505.4,201.7 506.0,201.7 506.6,201.7 507.2,201.7 507.8,201.7 508.4,201.7 508.9,201.7 509.5,201.7 510.1,201.7 510.7,201.7 511.3,201.7 511.9,201.7 512.5,201.7 513.1,201.7 513.6,201.7 514.2,201.7 514.8,201.7 515.4,201.7 516.0,201.7"/>
<polyline stroke="#4bacc6" points="29.5,101.0 30.1,101.0 30.7,101.0 31.2,101.0 31.8,101.0 32.4,101.0 33.0,101.0 33.6,101.0 34.2,101.0 34.8,101.0 35.3,101.0 35.9,101.0 36.5,101.0 37.1,101.0 37.7,101.0 38.2,101.0 38.8,101.0 39.4,101.0 40.0,101.0 40.6,101.1 41.2,101.1 41.7,101.1 42.3,101.1 42.9,101.1 43.5,101.1 44.1,101.1 44.6,101.1 45.2,101.1 45.8,101.1 46.4,101.1 47.0,101.1 47.6,101.1 48.1,101.1 48.7,101.1 49.3,101.1 50.9,99.5 52.0,99.5 52.5,99.1 53.0,98.8 53.5,98.7 54.1,98.7 54.7,98.7 55.3,98.7 55.9,98.8 56.5,98.8 57.0,98.8 57.6,98.9 58.2,98.9 58.8,98.9 59.4,99.0 60.0,99.0 60.6,99.0 61.2,99.1 61.8,99.1 62.4,99.1 62.9,99.1 63.5,99.2 64.1,99.2 64.7,99.2 65.3,99.3 65.9,99.3 66.5,99.3 67.1,99.3 67.6,99.3 68.2,99.4 68.8,99.4 69.4,99.4 70.0,99.4 70.6,99.4 71.2,99.4 71.8,99.4 72.4,99.4 73.0,99.4 73.6,99.4 74.2,99.5 74.8,99.5 75.4,99.5 76.0,99.5 76.6,99.5 77.2,99.5 77.8,99.5 78.4,99.5 79.0,99.5 79.6,99.5 80.2,99.5 80.8,99.5 81.4,99.5 82.0,99.5 82.6,99.5 83.2,99.5 83.8,99.5 84.4,99.5 85.0,99.5 85.6,99.6 86.2,99.6 86.8,99.6 87.4,99.6 88.0,99.6 88.6,99.6 89.2,99.6 89.8,99.6 90.4,99.6 91.0,99.6 91.6,99.6 92.2,99.6 92.8,99.6 93.4,99.6 94.0,99.6 94.6,99.6 95.2,99.6 95.8,99.6 96.4,99.6 97.0,99.6 97.6,99.6 98.2,99.6 98.8,99.6 99.4,99.6 100.0,99.6 100.6,99.6 101.2,99.6 101.8,99.6 102.3,99.6 102.9,99.6 103.5,99.6 104.9,97.5 106.0,96.8 106.6,96.9 107.1,96.9 107.7,97.0 108.3,97.1 108.9,97.1 109.4,97.2 110.0,97.2 110.6,97.2 111.2,97.3 111.8,97.3 112.4,97.3 112.9,97.3 113.5,97.3 114.1,97.4 114.7,97.4 115.3,97.4 115.9,97.4 116.5,97.4 117.1,97.4 117.6,97.5 118.2,97.5 118.8,97.5 119.4,97.5 120.0,97.5 120.6,97.5 121.2,97.5 121.8,97.5 122.4,97.5 123.0,97.5 123.6,97.5 124.2,97.6 124.8,97.6 125.4,97.6 126.0,97.6 126.6,97.6 127.2,97.6 127.8,97.6 128.4,97.6 129.0,97.6 129.6,97.6 130.2,97.6 130.8,97.6 131.4,97.6 132.0,97.7 132.6,97.7 133.2,97.7 133.8,97.7 134.4,97.7 135.0,97.7 135.6,97.7 136.2,97.7 136.8,97.7 137.4,97.7 138.0,97.7 138.6,97.7 139.2,97.7 139.8,97.7 140.4,97.7 141.0,97.7 141.6,97.7 142.2,97.7 142.8,97.7 143.4,97.8 144.0,97.8 144.6,97.8 145.2,97.8 145.8,97.8 146.4,97.8 147.0,97.8 147.6,97.8 148.2,97.8 148.8,97.8 149.4,97.8 150.0,97.8 150.6,97.8 151.2,97.8 151.8,97.8 152.4,97.8 153.0,97.8 153.6,97.8 154.2,97.8 154.8,97.8 155.4,97.8 156.0,97.8 156.6,97.8 157.2,97.8 158.8,97.5 160.0,96.5 160.6,96.5 161.2,96.6 161.8,96.6 162.4,96.6 162.9,96.7 163.5,96.7 164.1,96.7 164.7,96.8 165.3,96.8 165.9,96.8 166.5,96.9 167.1,96.9 167.6,96.9 168.2,96.9 168.8,97.0 169.4,97.0 170.0,97.0 170.6,97.0 171.2,97.0 171.8,97.0 172.4,97.1 173.0,97.1 173.6,97.1 174.2,97.1 174.8,97.1 175.4,97.1 176.0,97.1 176.6,97.2 177.2,97.2 177.8,97.2 178.4,97.2 179.0,97.2 179.6,97.2 180.2,97.2 180.7,97.3 181.3,97.3 181.9,97.3 182.5,97.3 183.1,97.3 183.7,97.3 184.3,97.3 184.9,97.3 185.5,97.3 186.1,97.4 186.7,97.4 187.3,97.4 187.9,97.4 188.5,97.4 189.1,97.4 189.7,97.4 190.3,97.4 190.9,97.4 191.5,97.4 192.1,97.5 192.7,97.5 193.3,97.5 193.9,97.5 194.5,97.5 195.1,97.5 195.7,97.5 196.3,97.5 196.9,97.5 197.5,97.5 198.1,97.5 198.7,97.5 199.3,97.5 199.9,97.5 200.5,97.6 201.0,97.6 201.6,97.6 202.2,97.6 202.8,97.6 203.4,97.6 204.0,97.6 204.6,97.6 205.2,97.6 205.8,97.6 206.4,97.6 207.0,97.6 207.6,97.6 208.2,97.6 208.8,97.6 209.4,97.6 210.0,97.6 210.6,97.6 211.2,97.6 212.8,97.5 214.0,96.4 214.6,96.4 215.2,96.5 215.8,96.5 216.4,96.5 217.0,96.6 217.5,96.6 218.1,96.6 218.7,96.6 219.3,96.7 219.9,96.7 220.5,96.7 221.1,96.8 221.7,96.8 222.3,96.8 222.9,96.9 223.5,96.9 224.0,96.9 224.6,96.9 225.2,97.0 225.8,97.0 226.4,97.0 227.0,97.1 227.6,97.1 228.2,97.1 228.8,97.1 229.4,97.2 230.0,97.2 230.5,97.2 231.1,97.2 231.7,97.3 232.3,97.3 232.9,97.3 233.5,97.3 234.1,97.4 234.7,97.4 235.3,97.4 235.9,97.4 236.5,97.5 237.0,97.5 237.6,97.5 238.2,97.5 238.8,97.6 239.4,97.6 240.0,97.6 240.6,97.6 241.2,97.6 241.8,97.7 242.4,97.7 243.0,97.7 243.6,97.7 244.2,97.8 244.8,97.8 245.4,97.8 246.0,97.8 246.6,97.8 247.2,97.9 247.8,97.9 248.4,97.9 249.0,97.9 249.6,97.9 250.2,98.0 250.8,98.0 251.4,98.0 252.0,98.0 252.6,98.0 253.2,98.1 253.8,98.1 254.4,98.1 255.0,98.1 255.6,98.1 256.2,98.2 256.8,98.2 257.4,98.2 258.0,98.2 258.6,98.2 259.2,98.2 259.8,98.3 260.4,98.3 261.0,98.3 261.6,98.3 262.2,98.3 262.8,98.3 263.4,98.4 264.0,98.4 264.6,98.4 265.2,98.4 266.8,97.5 268.0,96.7 268.6,96.8 269.2,96.8 269.8,96.9 270.4,97.0 271.0,97.0 271.6,97.1 272.2,97.2 272.8,97.2 273.4,97.3 273.9,97.4 274.5,97.4 275.1,97.5 275.7,97.6 276.3,97.6 276.9,97.7 277.5,97.7 278.1,97.8 278.7,97.8 279.3,97.9 279.9,98.0 280.5,98.0 281.1,98.1 281.7,98.1 282.3,98.2 282.9,98.2 283.5,98.3 284.1,98.3 284.6,98.4 285.2,98.4 285.8,98.4 286.4,98.5 287.0,98.5 287.6,98.6 288.2,98.6 288.8,98.6 289.4,98.7 290.0,98.7 290.6,98.7 291.2,98.8 291.8,98.8 292.4,98.8 293.0,98.9 293.6,98.9 294.2,98.9 294.8,98.9 295.4,99.0 296.0,99.0 296.6,99.0 297.2,99.1 297.7,99.1 298.3,99.1 298.9,99.1 299.5,99.2 300.1,99.2 300.7,99.2 301.3,99.2 301.9,99.3 302.5,99.3 303.1,99.3 303.7,99.3 304.3,99.4 304.9,99.4 305.5,99.4 306.1,99.4 306.7,99.5 307.3,99.5 307.9,99.5 308.5,99.5 309.1,99.5 309.7,99.5 310.3,99.6 310.9,99.6 311.5,99.6 312.0,99.6 312.6,99.6 313.2,99.6 313.8,99.6 314.4,99.7 315.0,99.7 315.6,99.7 316.2,99.7 316.8,99.7 317.4,99.7 318.0,99.7 318.6,99.7 319.2,99.7 320.8,97.5 322.0,97.6 322.6,97.6 323.2,97.7 323.8,97.7 324.4,97.8 325.0,97.8 325.6,97.9 326.2,97.9 326.8,98.0 327.4,98.0 328.0,98.1 328.6,98.1 329.2,98.1 329.8,98.2 330.4,98.2 331.0,98.3 331.6,98.3 332.2,98.3 332.8,98.4 333.4,98.4 334.0,98.4 334.6,98.5 335.2,98.5 335.8,98.5 336.4,98.6 337.0,98.6 337.6,98.6 338.2,98.6 338.8,98.7 339.4,98.7 340.0,98.7 340.6,98.7 341.2,98.7 341.8,98.7 342.4,98.8 343.0,98.8 343.5,98.8 344.1,98.8 344.7,98.8 345.3,98.8 345.9,98.8 346.5,98.9 347.1,98.9 347.7,98.9 348.3,98.9 348.9,98.9 349.5,98.9 350.0,98.9 350.6,98.9 351.2,99.0 351.8,99.0 352.4,99.0 353.0,99.0 353.6,99.0 354.2,99.0 354.8,99.0 355.4,99.0 356.0,99.0 356.6,99.1 357.1,99.1 357.7,99.1 358.3,99.1 358.9,99.1 359.5,99.1 360.1,99.1 360.7,99.1 361.3,99.1 361.9,99.1 362.5,99.1 363.1,99.1 363.6,99.2 364.2,99.2 364.8,99.2 365.4,99.2 366.0,99.2 366.6,99.2 367.2,99.2 367.8,99.2 368.4,99.2 369.0,99.2 369.6,99.2 370.1,99.2 370.7,99.2 371.3,99.2 371.9,99.2 372.5,99.2 373.1,99.2 375.0,96.5 376.3,93.7 376.9,93.8 377.5,93.8 378.1,93.9 378.7,93.9 379.3,94.0 379.9,94.0 380.5,94.1 381.1,94.2 381.7,94.2 382.3,94.3 382.9,94.3 383.4,94.4 384.0,94.4 384.6,94.5 385.2,94.5 385.8,94.5 386.4,94.6 387.0,94.6 387.6,94.6 388.2,94.7 388.8,94.7 389.4,94.7 390.0,94.7 390.6,94.7 391.2,94.7 391.8,94.7 392.4,94.7 393.0,94.7 393.6,94.7 394.2,94.7 394.8,94.7 395.4,94.7 396.0,94.7 396.6,94.7 397.2,94.7 397.8,94.7 398.4,94.7 399.0,94.7 399.6,94.7 400.1,94.7 400.7,94.8 401.3,94.8 401.9,94.8 402.5,94.8 403.1,94.8 403.7,94.8 404.3,94.8 404.9,94.8 405.5,94.8 406.1,94.8 406.7,94.8 407.3,94.8 407.9,94.8 408.5,94.8 409.1,94.8 409.7,94.8 410.3,94.8 410.9,94.8 411.5,94.8 412.1,94.8 412.7,94.8 413.3,94.8 413.9,94.8 414.5,94.8 415.1,94.8 415.7,94.8 416.3,94.8 416.9,94.8 417.5,94.8 418.1,94.8 418.7,94.8 419.3,94.8 419.9,94.8 420.4,94.8 421.0,94.8 421.6,94.8 422.2,94.8 422.8,94.8 423.4,94.8 424.0,94.8 424.6,94.8 425.2,94.8 425.8,94.8 426.4,94.8 427.0,94.8 427.6,94.8 428.2,94.8 428.8,94.8 429.4,94.8 430.0,94.8 430.6,94.8 431.2,94.8 431.8,94.8 432.4,94.8 433.0,94.8 433.6,94.8 434.2,94.8 434.8,94.8 435.4,94.8 436.0,94.8 436.6,94.8 437.2,94.8 437.8,94.8 438.4,94.8 439.0,94.8 439.6,94.8 440.1,94.7 440.7,94.7 441.3,94.7 441.9,94.7 442.5,94.7 443.1,94.7 443.7,94.7 444.3,94.7 444.9,94.7 445.5,94.7 446.1,94.7 446.7,94.7 447.3,94.7 447.9,94.7 448.5,94.6 449.1,94.6 449.7,94.6 450.3,94.6 450.9,94.6 451.5,94.6 452.1,94.6 452.7,94.6 453.3,94.6 453.9,94.6 454.5,94.6 455.1,94.5 455.7,94.5 456.3,94.5 456.9,94.5 457.5,94.5 458.1,94.5 458.7,94.5 459.3,94.5 459.9,94.5 460.4,94.5 461.0,94.4 461.6,94.4 462.2,94.4 462.8,94.4 463.4,94.4 464.0,94.4 464.6,94.4 465.2,94.4 465.8,94.4 466.4,94.4 467.0,94.3 467.6,94.3 468.2,94.3 468.8,94.3 469.4,94.3 470.0,94.3 470.6,94.3 471.2,94.3 471.8,94.3 472.4,94.3 473.0,94.3 473.6,94.2 474.2,94.2 474.8,94.2 475.4,94.2 476.0,94.2 476.6,94.2 477.2,94.2 477.8,94.2 478.4,94.2 479.0,94.2 479.6,94.2 480.2,94.2 480.8,94.1 481.4,94.1 482.0,94.1 482.6,94.1 483.2,94.1 483.8,94.1 484.4,94.1 485.0,94.1 485.6,94.1 486.2,94.1 486.8,94.1 487.4,94.0 488.0,94.0 488.6,94.0 489.2,94.0 489.8,94.0 490.4,94.0 491.0,94.0 491.6,94.0 492.2,94.0 492.8,93.9 493.4,93.9 494.0,93.9 494.6,93.9 495.2,93.9 495.8,93.9 496.4,93.9 497.0,93.9 497.6,93.9 498.2,93.8 498.8,93.8 499.4,93.8 500.0,93.8 500.6,93.8 501.2,93.8 501.8,93.8 502.4,93.7 503.0,93.7 503.6,93.7 504.1,93.7 504.7,93.7 505.3,93.7 505.9,93.6 506.5,93.6 507.1,93.6 507.7,93.6 508.3,93.6 508.9,93.5 509.5,93.5 510.1,93.5 510.7,93.5 511.3,93.5 511.9,93.4 512.4,93.4 513.0,93.4 513.6,93.4 514.2,93.4 514.8,93.3 515.4,93.3 516.0,93.3"/>
<polyline stroke="#1f497d" points="29.5,166.7 83.6,166.7 83.6,160.8 137.6,160.8 137.6,153.0 191.7,153.0 191.7,148.0 245.7,148.0 245.7,154.5 299.8,154.5 299.8,153.8 353.8,153.8 353.8,151.1 407.9,151.1 407.9,151.5 461.9,151.5 461.9,150.8 516.0,150.8"/>
<polyline stroke="#f79646" points="29.5,164.6 83.6,164.6 83.6,129.4 137.6,129.4 137.6,103.5 191.7,103.5 191.7,53.2 245.7,53.2 245.7,91.0 299.8,91.0 299.8,87.4 353.8,87.4 353.8,99.2 407.9,99.2 407.9,84.0 461.9,84.0 516.0,84.0"/>
</g>
<rect x="29.5" y="27.4" width="486.5" height="205.2" stroke="#7f7f7f" fill="none" stroke-width="1.3"/>
<path d="M29.5 232.60h1.5M29.5 209.80h1.5M29.5 187.00h1.5M29.5 164.20h1.5M29.5 141.40h1.5M29.5 118.60h1.5M29.5 95.80h1.5M29.5 73.00h1.5M29.5 50.20h1.5M29.5 27.40h1.5M516.0 232.60h1.5M516.0 212.08h1.5M516.0 191.56h1.5M516.0 171.04h1.5M516.0 150.52h1.5M516.0 130.00h1.5M516.0 109.48h1.5M516.0 88.96h1.5M516.0 68.44h1.5M516.0 47.92h1.5M516.0 27.40h1.5M29.50 232.6v-1.5M43.01 232.6v-1.5M56.53 232.6v-1.5M70.04 232.6v-1.5M83.56 232.6v-1.5M97.07 232.6v-1.5M110.58 232.6v-1.5M124.10 232.6v-1.5M137.61 232.6v-1.5M151.12 232.6v-1.5M164.64 232.6v-1.5M178.15 232.6v-1.5M191.67 232.6v-1.5M205.18 232.6v-1.5M218.69 232.6v-1.5M232.21 232.6v-1.5M245.72 232.6v-1.5M259.24 232.6v-1.5M272.75 232.6v-1.5M286.26 232.6v-1.5M299.78 232.6v-1.5M313.29 232.6v-1.5M326.81 232.6v-1.5M340.32 232.6v-1.5M353.83 232.6v-1.5M367.35 232.6v-1.5M380.86 232.6v-1.5M394.38 232.6v-1.5M407.89 232.6v-1.5M421.40 232.6v-1.5M434.92 232.6v-1.5M448.43 232.6v-1.5M461.94 232.6v-1.5M475.46 232.6v-1.5M488.97 232.6v-1.5M502.49 232.6v-1.5M516.00 232.6v-1.5" stroke-width="1" stroke="#404040" fill="none"/>
<g font-family="'Liberation Sans', Arial, sans-serif" fill="#262626" stroke="#262626" stroke-width="0.12" font-size="6.6">
<text x="27" y="232.60" text-anchor="end" dominant-baseline="central">10</text>
<text x="27" y="209.80" text-anchor="end" dominant-baseline="central">15</text>
<text x="27" y="187.00" text-anchor="end" dominant-baseline="central">20</text>
<text x="27" y="164.20" text-anchor="end" dominant-baseline="central">25</text>
<text x="27" y="141.40" text-anchor="end" dominant-baseline="central">30</text>
<text x="27" y="118.60" text-anchor="end" dominant-baseline="central">35</text>
<text x="27" y="95.80" text-anchor="end" dominant-baseline="central">40</text>
<text x="27" y="73.00" text-anchor="end" dominant-baseline="central">45</text>
<text x="27" y="50.20" text-anchor="end" dominant-baseline="central">50</text>
<text x="27" y="27.40" text-anchor="end" dominant-baseline="central">55</text>
<text x="521.8" y="233.00" dominant-baseline="central" font-size="6.2">5,4</text>
<text x="521.8" y="212.48" dominant-baseline="central" font-size="6.2">5,6</text>
<text x="521.8" y="191.96" dominant-baseline="central" font-size="6.2">5,8</text>
<text x="521.8" y="171.44" dominant-baseline="central" font-size="6.2">6</text>
<text x="521.8" y="150.92" dominant-baseline="central" font-size="6.2">6,2</text>
<text x="521.8" y="130.40" dominant-baseline="central" font-size="6.2">6,4</text>
<text x="521.8" y="109.88" dominant-baseline="central" font-size="6.2">6,6</text>
<text x="521.8" y="89.36" dominant-baseline="central" font-size="6.2">6,8</text>
<text x="521.8" y="68.84" dominant-baseline="central" font-size="6.2">7</text>
<text x="521.8" y="48.32" dominant-baseline="central" font-size="6.2">7,2</text>
<text x="521.8" y="27.80" dominant-baseline="central" font-size="6.2">7,4</text>
<text x="29.50" y="243.5" text-anchor="middle" font-size="6.4">25/06/2015</text>
<text x="83.56" y="243.5" text-anchor="middle" font-size="6.4">26/06/2015</text>
<text x="137.61" y="243.5" text-anchor="middle" font-size="6.4">27/06/2015</text>
<text x="191.67" y="243.5" text-anchor="middle" font-size="6.4">28/06/2015</text>
<text x="245.72" y="243.5" text-anchor="middle" font-size="6.4">29/06/2015</text>
<text x="299.78" y="243.5" text-anchor="middle" font-size="6.4">30/06/2015</text>
<text x="353.83" y="243.5" text-anchor="middle" font-size="6.4">01/07/2015</text>
<text x="407.89" y="243.5" text-anchor="middle" font-size="6.4">02/07/2015</text>
<text x="461.94" y="243.5" text-anchor="middle" font-size="6.4">03/07/2015</text>
<text x="516.00" y="243.5" text-anchor="middle" font-size="6.4">04/07/2015</text>
</g>
<text x="274" y="17.5" text-anchor="middle" font-family="'Liberation Sans', Arial, sans-serif" font-size="10.2" fill="#000">Values of the moisture sensors, temperature and ETo</text>
<text transform="translate(14.5,128) rotate(-90)" text-anchor="middle" font-family="'Liberation Sans', Arial, sans-serif" font-size="6.8" fill="#1a1a1a">Moisture value (%) and temperature (ºC)</text>
<text transform="translate(537.5,125) rotate(-90)" text-anchor="middle" font-family="'Liberation Sans', Arial, sans-serif" font-size="7" fill="#1a1a1a">Evapotranspiration (mm/d)</text>
<line x1="136.4" y1="254.8" x2="149.1" y2="254.8" stroke="#c0504d" stroke-width="1.8"/>
<text x="150.4" y="254.8" dominant-baseline="central" font-family="'Liberation Sans', Arial, sans-serif" font-size="7" fill="#000" stroke="#000" stroke-width="0.12">Depth 1</text>
<line x1="183.0" y1="254.8" x2="195.7" y2="254.8" stroke="#9bbb59" stroke-width="1.8"/>
<text x="197.0" y="254.8" dominant-baseline="central" font-family="'Liberation Sans', Arial, sans-serif" font-size="7" fill="#000" stroke="#000" stroke-width="0.12">Depth 2</text>
<line x1="230.0" y1="254.8" x2="242.7" y2="254.8" stroke="#8064a2" stroke-width="1.8"/>
<text x="244.0" y="254.8" dominant-baseline="central" font-family="'Liberation Sans', Arial, sans-serif" font-size="7" fill="#000" stroke="#000" stroke-width="0.12">Depth 3</text>
<line x1="277.0" y1="254.8" x2="289.7" y2="254.8" stroke="#4bacc6" stroke-width="1.8"/>
<text x="291.0" y="254.8" dominant-baseline="central" font-family="'Liberation Sans', Arial, sans-serif" font-size="7" fill="#000" stroke="#000" stroke-width="0.12">Depth 4</text>
<line x1="324.0" y1="254.8" x2="336.7" y2="254.8" stroke="#1f497d" stroke-width="1.8"/>
<text x="338.0" y="254.8" dominant-baseline="central" font-family="'Liberation Sans', Arial, sans-serif" font-size="7" fill="#000" stroke="#000" stroke-width="0.12">Temperature</text>
<line x1="386.3" y1="254.8" x2="399.0" y2="254.8" stroke="#f79646" stroke-width="1.8"/>
<text x="400.3" y="254.8" dominant-baseline="central" font-family="'Liberation Sans', Arial, sans-serif" font-size="7" fill="#000" stroke="#000" stroke-width="0.12">ETo</text>
</svg>
</body></html>
